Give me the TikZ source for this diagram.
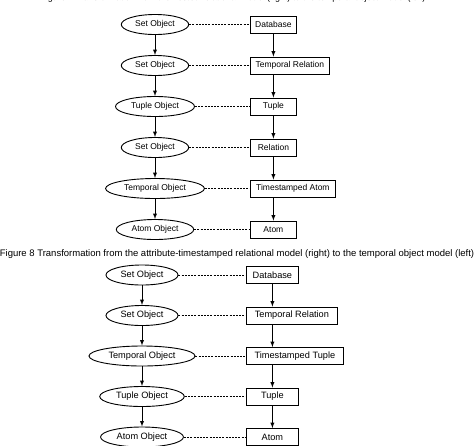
\documentclass[tikz,border=0pt]{standalone}
\usepackage{fontspec}
\setmainfont{Liberation Sans}
\usepackage{tikz}
\usetikzlibrary{positioning}
\usetikzlibrary{arrows,shapes}
\usetikzlibrary{calc}
\tikzstyle{objnode}=[ellipse,draw,line width=0.9pt,inner xsep=4pt,inner ysep=1pt,minimum height=20pt]
\tikzstyle{relnode}=[rectangle,draw,line width=0.8pt,anchor=west,inner xsep=3pt,minimum height=17pt]
\tikzstyle{edge} = [draw,line width=0.9pt,-latex]
\tikzstyle{link} = [draw,line width=0.6pt,dash pattern=on 2pt off 1.2pt]
\tikzset{caption/.style={font=\fontsize{9.5}{11}\selectfont}}
\tikzset{smallfont/.style={font=\fontsize{8.5}{10}\selectfont}}
\tikzset{bigfont/.style={font=\fontsize{9.2}{11}\selectfont}}

\begin{document}
\begin{tikzpicture}[x=1pt,y=-1pt]
  \useasboundingbox (0,0) rectangle (474,445);

  \def\dy{41};
  \def\ey{40.5};

  % Figure 7, nested relational model
  \node[caption,font=\fontsize{8.9}{11}\selectfont] (cap7) at (233,-1.5) {Figure 7 Transformation from the nested relational model (right) to the temporal object model (left)};

   \foreach \y/\name/\label in {0/oa1/Set Object, 1/oa2/Set Object, 2/oa3/Tuple Object, 3/oa4/Set Object, 4/oa5/Temporal Object, 5/oa6/Atom Object}
          \node[objnode,smallfont] (\name) at (155, 24.5+\y*\dy) {\label};

   \foreach \y/\name/\label/\w in {0/ra1/Database/46, 1/ra2/Temporal Relation/79, 2/ra3/Tuple/46, 3/ra4/Relation/46, 4/ra5/Timestamped Atom/85, 5/ra6/Atom/46}
          \node[relnode,smallfont,minimum width=\w] (\name) at (250, 24.5+\y*\dy) {\label};

  \foreach \source/ \dest in {oa1/oa2, oa2/oa3, oa3/oa4, oa4/oa5, oa5/oa6}
         \path[edge] (\source.south) -- (\dest.north);

  \foreach \source/ \dest in {ra1/ra2, ra2/ra3, ra3/ra4, ra4/ra5, ra5/ra6}
         \path[edge] (\source.south -| ra1.south) -- (\dest.north -| ra1.south);

  \foreach \i in {1,...,6}
         \path[link] (oa\i.east) -- (ra\i.west);

  % Figure 8, attribute-timestamped relational model
  \node[caption] (cap8) at (237,254) {Figure 8 Transformation from the attribute-timestamped relational model (right) to the temporal object model (left)};

   \foreach \y/\name/\label in {0/ob1/Set Object, 1/ob2/Set Object, 2/ob3/Temporal Object, 3/ob4/Tuple Object, 4/ob5/Atom Object}
          \node[objnode,bigfont] (\name) at (142, 275+\y*\ey) {\label};

   \foreach \y/\name/\label/\w in {0/rb1/Database/52, 1/rb2/Temporal Relation/91, 2/rb3/Timestamped Tuple/97, 3/rb4/Tuple/52, 4/rb5/Atom/52}
          \node[relnode,bigfont,minimum width=\w] (\name) at (246, 275+\y*\ey) {\label};

  \foreach \source/ \dest in {ob1/ob2, ob2/ob3, ob3/ob4, ob4/ob5}
         \path[edge] (\source.south) -- (\dest.north);

  \foreach \source/ \dest in {rb1/rb2, rb2/rb3, rb3/rb4, rb4/rb5}
         \path[edge] (\source.south -| rb1.south) -- (\dest.north -| rb1.south);

  \foreach \i in {1,...,5}
         \path[link] (ob\i.east) -- (rb\i.west);

\end{tikzpicture}
\end{document}
